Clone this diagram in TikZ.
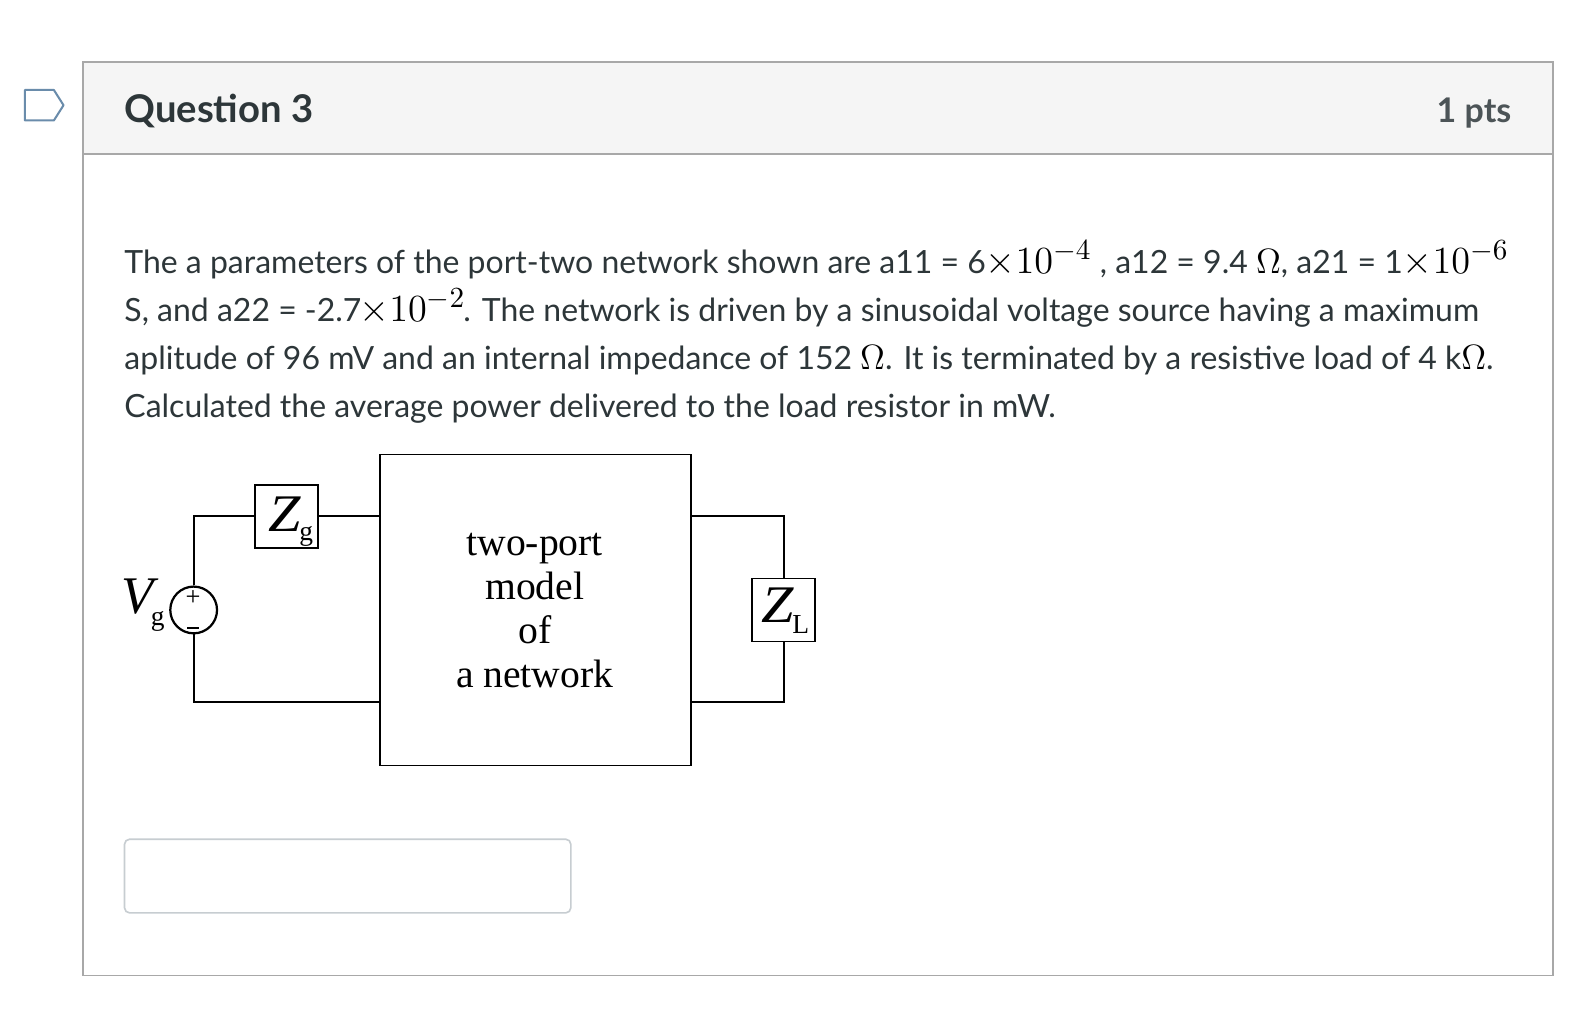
\documentclass[tikz,border=0pt]{standalone}
\usepackage{fontspec}
\setmainfont{Lato}
\newfontfamily\circfont{Liberation Serif}
\definecolor{ink}{HTML}{2D3639}
\definecolor{rulegrey}{HTML}{A8A8A8}
\definecolor{headbg}{HTML}{F5F5F5}
\definecolor{flagblue}{HTML}{6A8CAB}
\definecolor{fieldgrey}{HTML}{C7CDD1}
\newcommand{\om}{\scalebox{1.2}{\color{black}$\Omega$}}
\newcommand{\tenp}[2]{#1\scalebox{1.31}{\color{black}${\times}10^{#2}$}}
\tikzset{
  bodyline/.style={anchor=base west,inner sep=0pt,text=ink,font=\fontsize{15.73pt}{20pt}\selectfont},
  qtitle/.style={anchor=base west,inner sep=0pt,text=ink,font=\fontsize{18.8pt}{23pt}\selectfont\bfseries},
  ptstext/.style={anchor=base east,inner sep=0pt,text=ink!85!white,font=\fontsize{16.7pt}{20pt}\selectfont\bfseries},
  panel/.style={draw=rulegrey,line width=0.7pt},
  wire/.style={draw=black,line width=1pt},
  impbox/.style={draw=black,line width=0.8pt,minimum width=31pt,minimum height=31pt,inner sep=0pt,fill=white},
  circtext/.style={inner sep=0pt,text=black,font=\circfont\fontsize{19.5pt}{21.5pt}\selectfont},
  symtext/.style={inner sep=0pt,text=black,font=\circfont\fontsize{26pt}{28pt}\selectfont\itshape,anchor=base west},
  subtext/.style={inner sep=0pt,text=black,font=\circfont\fontsize{13.5pt}{15pt}\selectfont,anchor=base west},
}
\begin{document}
\begin{tikzpicture}[x=0.5pt,y=-0.5pt]
\useasboundingbox (0,0) rectangle (1568,991.6);
\fill[white] (0,0) rectangle (1568,991.6);
% panel
\draw[panel] (81.5,61) rectangle (1527.5,959.5);
\draw[panel,fill=headbg] (81.5,61) rectangle (1527.5,151.5);
\node[qtitle] (title) at (122,120.5) {Question 3};
\node[ptstext] (pts) at (1487,120.5) {1 pts};
% flag
\draw[flagblue,line width=1pt,line join=round,fill=white] (24.5,88.5) -- (53,88.5) -- (62.5,103.5) -- (53,118.5) -- (24.5,118.5) -- cycle;
% body
\node[bodyline] (l1) at (122,269) {The a parameters of the port-two network shown are a11 = \tenp{6}{-4} , a12 = 9.4 \om, a21 = \tenp{1}{-6}};
\node[bodyline] (l2) at (122,316) {S, and a22 = -\tenp{2.7\kern-1pt}{-2}\kern-1pt. The network is driven by a sinusoidal voltage source having a maximum};
\node[bodyline] (l3) at (122,363) {aplitude of 96 mV and an internal impedance of 152 \om. It is terminated by a resistive load of 4 k\om.};
\node[bodyline] (l4) at (122,410.5) {Calculated the average power delivered to the load resistor in mW.};
% circuit
\node[draw=black,line width=0.9pt,minimum width=153pt,minimum height=153pt,inner sep=0pt] (net) at (526.5,600) {};
\node[circtext,align=center] (nettext) at (526,600.5) {two-port\\model\\of\\a network};
\coordinate (tl) at (190.5,508);
\coordinate (bl) at (190.5,691);
\coordinate (tr) at (771,508);
\coordinate (br) at (771,691);
\coordinate (nettl) at (373.5,508);
\coordinate (netbl) at (373.5,691);
\coordinate (nettr) at (679.5,508);
\coordinate (netbr) at (679.5,691);
\node[impbox] (zg) at (282,508) {};
\node[impbox] (zl) at (771,600) {};
\node[draw=black,line width=1.1pt,circle,minimum size=23pt,inner sep=0pt] (src) at (190.5,600) {};
\draw[wire] (src.north) -- (tl) -- (zg.west);
\draw[wire] (zg.east) -- (nettl);
\draw[wire] (src.south) -- (bl) -- (netbl);
\draw[wire] (nettr) -- (tr) -- (zl.north);
\draw[wire] (zl.south) -- (br) -- (netbr);
\node[symtext] (zgsym) at (264,523) {\scalebox{1.1}[1]{Z}};
\node[subtext] (zgsub) at (294,532) {g};
\node[symtext] (zlsym) at (749,612) {\scalebox{1.1}[1]{Z}};
\node[subtext] (zlsub) at (779,623) {L};
\node[symtext] (vgsym) at (119,603) {\makebox[12pt][l]{V}};
\node[subtext] (vgsub) at (148,615) {g};
\node[inner sep=0pt,text=black,font=\circfont\fontsize{13pt}{14pt}\selectfont] (plus) at (190,588) {+};
\draw[black,line width=0.9pt] (184,618) -- (196,618);
% answer field
\draw[fieldgrey,line width=0.8pt,rounded corners=2.5pt,fill=white] (122.5,825.5) rectangle (561.5,898);
\end{tikzpicture}
\end{document}
